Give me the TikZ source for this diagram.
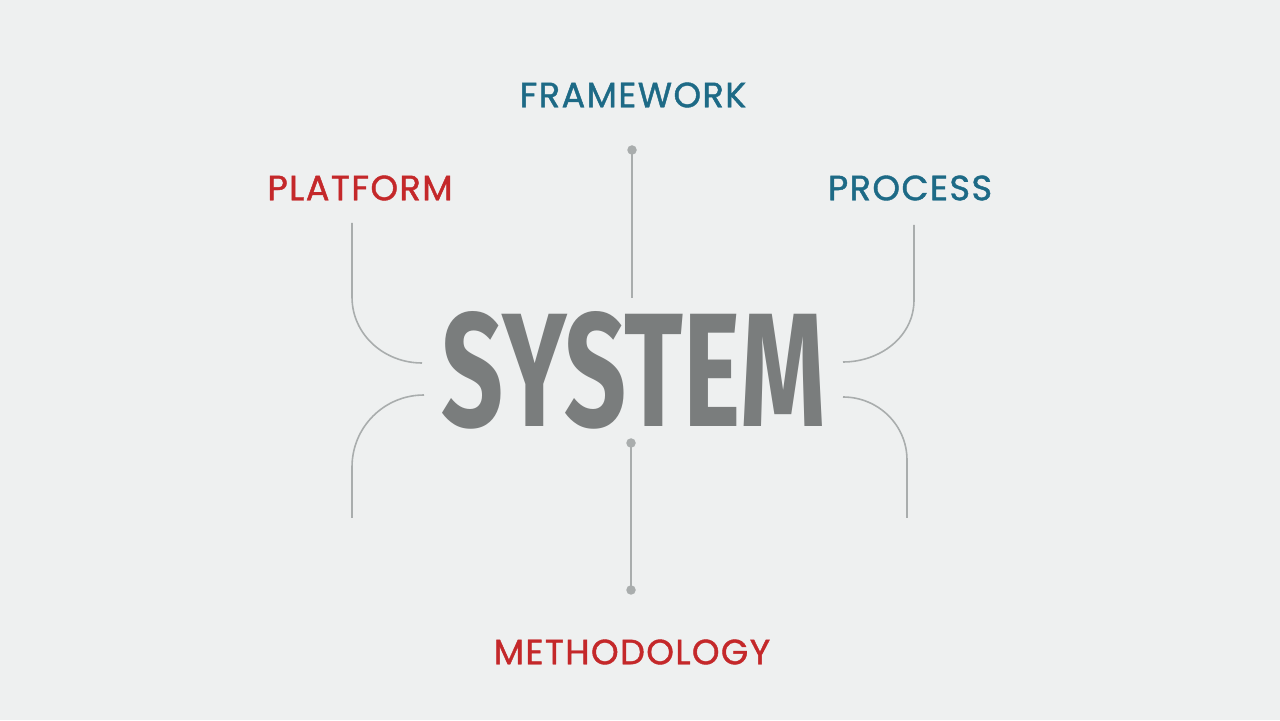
\documentclass[tikz,border=0pt]{standalone}
\usepackage{fontspec}
\usepackage{graphicx}
\usetikzlibrary{positioning,calc}
\setmainfont{Poppins}[FakeBold=1.2,LetterSpace=4]
\newfontfamily\bigfont{Fira Sans}
\definecolor{bgc}{HTML}{EEF0F0}
\definecolor{tealc}{HTML}{1D6A86}
\definecolor{redc}{HTML}{C4282A}
\definecolor{greyc}{HTML}{7A7D7D}
\definecolor{linec}{HTML}{A9ADAD}

\begin{document}
\begin{tikzpicture}[font=\fontsize{20}{24}\selectfont,
	tealword/.style={text=tealc,inner sep=0pt},
	redword/.style={text=redc,inner sep=0pt},
	link/.style={draw=linec,line width=0.9pt},
	knob/.style={circle,fill=linec,inner sep=0pt,minimum size=0.19cm},
]
	\fill[bgc] (0,0) rectangle (25.6,14.4);
	\useasboundingbox (0,0) rectangle (25.6,14.4);

	% words
	\node[text=greyc,inner sep=0pt] (sys) at (12.68,7.0) {\resizebox{7.68cm}{2.3cm}{\bigfont\bfseries SYSTEM}};
	\node[tealword] (frame) at (12.66,12.5) {FRAMEWORK};
	\node[redword] (plat) at (7.2,10.64) {PLATFORM};
	\node[tealword] (proc) at (18.2,10.64) {PROCESS};
	\node[redword] (meth) at (12.64,1.36) {METHODOLOGY};

	% ends of the links
	\node[knob] (ktop) at (12.64,11.4) {};
	\node[knob] (kmid) at (12.62,5.54) {};
	\node[knob] (kbot) at (12.62,2.6) {};
	\coordinate (ttop) at (12.64,8.44);
	\coordinate (lt1) at (7.04,9.94);
	\coordinate (lt2) at (7.04,8.46);
	\coordinate (lt3) at (8.44,7.14);
	\coordinate (lb1) at (8.48,6.5);
	\coordinate (lb2) at (7.04,5.06);
	\coordinate (lb3) at (7.04,4.04);
	\coordinate (rt1) at (18.28,9.9);
	\coordinate (rt2) at (18.28,8.4);
	\coordinate (rt3) at (16.86,7.16);
	\coordinate (rb1) at (16.86,6.46);
	\coordinate (rb2) at (18.14,5.2);
	\coordinate (rb3) at (18.14,4.04);

	\path[link]
		(ktop.center) -- (ttop)
		(kmid.center) -- (kbot.center)
		(lt1) -- (lt2) to[out=-90,in=180] (lt3)
		(lb1) to[out=180,in=90] (lb2) -- (lb3)
		(rt1) -- (rt2) to[out=-90,in=0] (rt3)
		(rb1) to[out=0,in=90] (rb2) -- (rb3)
	;
\end{tikzpicture}
\end{document}
